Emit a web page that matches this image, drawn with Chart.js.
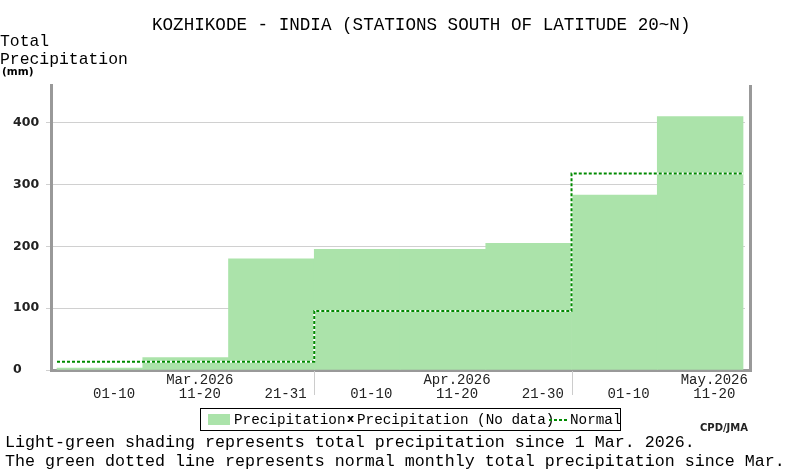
<!DOCTYPE html>
<html>
<head>
<meta charset="utf-8">
<script src="https://cdn.jsdelivr.net/npm/chart.js@4"></script>
<style>
  body { margin: 0; background: #fff; }
  #wrap { position: relative; width: 800px; height: 470px; overflow: hidden; }
  #chartBox { position: absolute; left: 0; top: 0; width: 800px; height: 470px; }
  .t { position: absolute; white-space: pre; color: #000; font-family: "Liberation Mono", monospace; line-height: 1; }
  .b { position: absolute; white-space: pre; color: #222; font-family: "DejaVu Sans", sans-serif; font-weight: bold; line-height: 1; }
</style>
</head>
<body>
<div id="wrap">
  <div id="chartBox"><canvas id="precipChart"></canvas></div>

  <div class="t" style="left:152px; top:16.5px; font-size:17.6px;">KOZHIKODE - INDIA (STATIONS SOUTH OF LATITUDE 20~N)</div>
  <div class="t" style="left:0px; top:34px; font-size:16.4px;">Total</div>
  <div class="t" style="left:0px; top:52px; font-size:16.4px;">Precipitation</div>
  <div class="b" style="left:2px; top:66px; font-size:10.5px; color:#000;">(mm)</div>

  <!-- legend -->
  <div style="position:absolute; left:200px; top:408px; width:419px; height:21px; border:1px solid #000;"></div>
  <div style="position:absolute; left:208px; top:414px; width:22px; height:11px; background:#abe3aa;"></div>
  <div class="t" style="left:234px; top:413px; font-size:14.3px;">Precipitation</div>
  <div class="b" style="left:347px; top:413px; font-size:11px; color:#000;">x</div>
  <div class="t" style="left:357px; top:413px; font-size:14.3px;">Precipitation (No data)</div>
  <div style="position:absolute; left:549px; top:419px; width:19px; height:2px; background:repeating-linear-gradient(90deg,#008a00 0 3px,transparent 3px 5px);"></div>
  <div class="t" style="left:570px; top:413px; font-size:14.3px;">Normal</div>

  <div class="b" style="left:700px; top:422.5px; font-size:10px;">CPD/JMA</div>

  <div class="t" style="left:5px; top:435px; font-size:16.67px;">Light-green shading represents total precipitation since 1 Mar. 2026.</div>
  <div class="t" style="left:5px; top:454px; font-size:16.67px;">The green dotted line represents normal monthly total precipitation since Mar.</div>
</div>

<script>
// dekads from 1 Mar to 20 May
const dekadLabels = ["01-10", "11-20", "21-31", "01-10", "11-20", "21-30", "01-10", "11-20"];
const monthLabels = ["Mar.2026", "Apr.2026", "May.2026"];
// accumulated precipitation (mm)
const precipValues = [3, 20, 180, 195, 195, 205, 283, 410];
// accumulated normal, one value per month
const normalValues = [13.5, 95.5, 318];
const yTicks = [0, 100, 200, 300, 400];

const barColor = "#abe3aa";
const normalColor = "#008a00";

const barPoints = precipValues.map((v, i) => ({ x: i + 0.5, y: v }));
const normalPoints = normalValues.map((v, m) => ({ x: m * 3, y: v }));
normalPoints.push({ x: dekadLabels.length, y: normalValues[normalValues.length - 1] });

// extra lines: right frame and month boundary marks under the axis
const framePlugin = {
  id: "frame",
  afterDraw(chart) {
    const { ctx, chartArea, scales } = chart;
    ctx.save();
    ctx.strokeStyle = "#cccccc";
    ctx.lineWidth = 1;
    for (let m = 1; m < monthLabels.length; m++) {
      const px = Math.round(scales.x.getPixelForValue(m * 3)) + 0.5;
      ctx.beginPath();
      ctx.moveTo(px, chartArea.bottom + 1);
      ctx.lineTo(px, chartArea.bottom + 25);
      ctx.stroke();
    }
    ctx.strokeStyle = "#999999";
    ctx.lineWidth = 3;
    ctx.beginPath();
    ctx.moveTo(chartArea.right - 1, chartArea.bottom + 0.5);
    ctx.lineTo(chartArea.right + 7, chartArea.bottom + 0.5);
    ctx.stroke();
    ctx.beginPath();
    ctx.moveTo(chartArea.right + 5.5, chartArea.top);
    ctx.lineTo(chartArea.right + 5.5, chartArea.bottom + 2);
    ctx.stroke();
    ctx.restore();
  }
};

const ctx = document.getElementById("precipChart").getContext("2d");
new Chart(ctx, {
  type: "bar",
  data: {
    datasets: [
      {
        type: "line",
        data: normalPoints,
        stepped: "before",
        borderColor: normalColor,
        borderWidth: 2,
        borderDash: [3, 2],
        pointRadius: 0,
        order: 1
      },
      {
        type: "line",
        data: normalPoints,
        stepped: "before",
        borderColor: "#ffffff",
        borderWidth: 2,
        pointRadius: 0,
        order: 2
      },
      {
        label: "Precipitation",
        data: barPoints,
        backgroundColor: barColor,
        borderWidth: 0,
        barPercentage: 1,
        categoryPercentage: 1,
        order: 3
      }
    ]
  },
  options: {
    responsive: true,
    maintainAspectRatio: false,
    animation: false,
    layout: { padding: { top: 85, left: 13, right: 55, bottom: 66 } },
    plugins: {
      legend: { display: false },
      tooltip: { enabled: false }
    },
    scales: {
      x: {
        type: "linear",
        offset: false,
        min: -0.07,
        max: 8.023,
        grid: { display: false, drawTicks: false },
        border: { display: true, color: "#999999", width: 3 },
        afterBuildTicks: (scale) => {
          scale.ticks = dekadLabels.map((d, i) => ({ value: i + 0.665 }));
        },
        afterFit: (scale) => { scale.height = 34; },
        ticks: {
          autoSkip: false,
          maxRotation: 0,
          padding: 4,
          color: "#222",
          font: { family: "Liberation Mono", size: 14, lineHeight: 0.96 },
          callback: (value, index) => [index % 3 === 1 ? monthLabels[Math.floor(index / 3)] : "", dekadLabels[index]]
        }
      },
      y: {
        min: 0,
        max: 461,
        grid: { color: "#d0d0d0", lineWidth: 1, tickLength: 5 },
        border: { display: true, color: "#999999", width: 3 },
        afterBuildTicks: (scale) => {
          scale.ticks = yTicks.map(v => ({ value: v }));
        },
        afterFit: (scale) => { scale.width = 38; },
        ticks: {
          crossAlign: "far",
          color: "#222",
          font: { family: "DejaVu Sans", size: 12.5, weight: "bold" }
        }
      }
    }
  },
  plugins: [framePlugin]
});
</script>
</body>
</html>
